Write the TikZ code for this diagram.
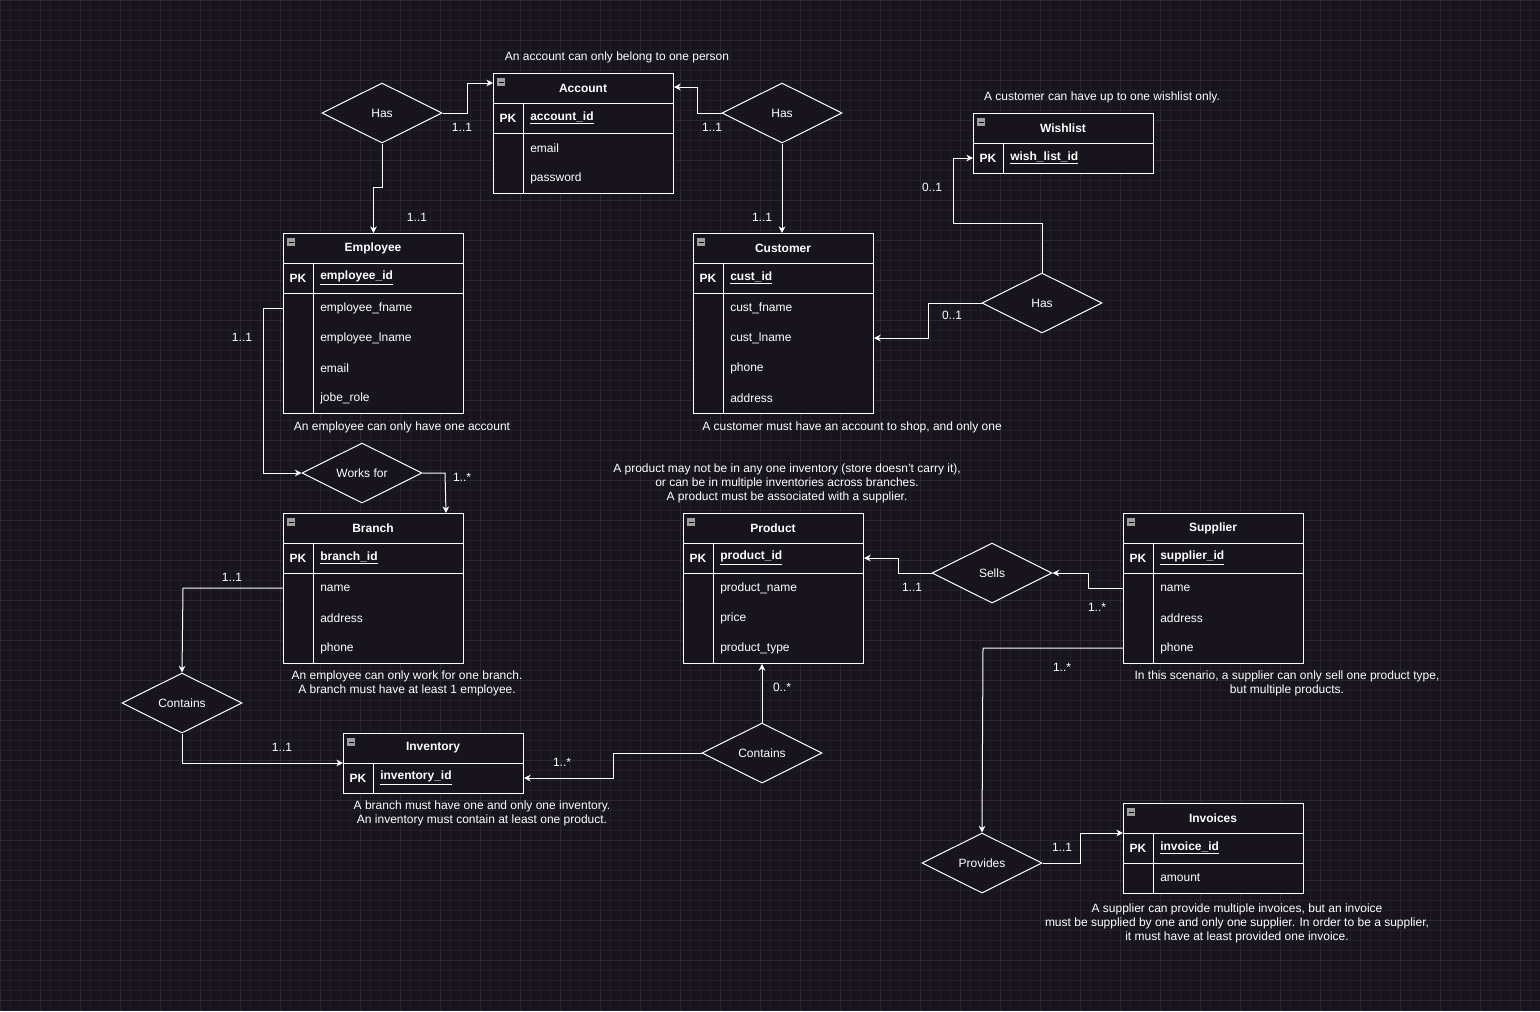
\documentclass[tikz,border=0pt]{standalone}
\usepackage{fontspec}
\setmainfont{Liberation Sans}
\usetikzlibrary{shapes.geometric,arrows.meta,calc}
\definecolor{bg}{HTML}{18141D}
\definecolor{gmin}{HTML}{221E28}
\definecolor{gmaj}{HTML}{2C2833}
\tikzset{
 ln/.style={draw=white,line width=0.75pt},
 con/.style={ln,-{Stealth[length=5pt,width=5pt]}},
 txt/.style={text=white,font=\fontsize{9}{10.5}\selectfont,inner sep=0},
 dia/.style={diamond,ln,fill=bg,minimum width=90pt,minimum height=45pt,inner sep=0,shape aspect=2,txt},
 note/.style={txt,align=center},
}
\newcommand\erent[7]{%
 \begin{scope}[shift={(#2,#3)}]
 \node[ln,fill=bg,anchor=north west,minimum width=135pt,minimum height=#7*0.75pt,inner sep=0] (#1) at (0,0) {};
 \draw[ln] (0,30)--(180,30) (0,60)--(180,60) (30,30)--(30,#7);
 \fill[gray!75] (4,5) rectangle (12,13); \draw[black,line width=0.6pt] (5.5,9)--(10.5,9);
 \node[txt,font=\fontsize{9}{10}\selectfont\bfseries] (#1-t) at (90,15) {#4};
 \node[txt,font=\fontsize{9}{10}\selectfont\bfseries] (#1-pk) at (15,45) {PK};
 \node[txt,font=\fontsize{9}{10}\selectfont\bfseries,anchor=west] (#1-id) at (37,45) {\underline{#5}};
 \foreach \a [count=\i] in {#6} {\node[txt,anchor=west] (#1-a\i) at (37,45+30*\i) {\a};}
 \end{scope}}
\begin{document}
\begin{tikzpicture}[x=0.75pt,y=-0.75pt]
\useasboundingbox (0,0) rectangle (1540,1011);
\fill[bg] (0,0) rectangle (1540,1011);
\foreach \k in {0,10,...,1540} \draw[gmin,line width=0.5pt] (\k,0) -- (\k,1011);
\foreach \k in {0,10,...,1010} \draw[gmin,line width=0.5pt] (0,\k) -- (1540,\k);
\foreach \k in {0,40,...,1540} \draw[gmaj,line width=0.6pt] (\k,0) -- (\k,1011);
\foreach \k in {0,40,...,1010} \draw[gmaj,line width=0.6pt] (0,\k) -- (1540,\k);
% entities
\erent{acc}{493}{73}{Account}{account\_id}{email,password}{120}
\erent{emp}{283}{233}{Employee}{employee\_id}{employee\_fname,employee\_lname,email,jobe\_role}{180}
\erent{cus}{693}{233}{Customer}{cust\_id}{cust\_fname,cust\_lname,phone,address}{180}
\erent{wis}{973}{113}{Wishlist}{wish\_list\_id}{}{60}
\erent{bra}{283}{513}{Branch}{branch\_id}{name,address,phone}{150}
\erent{pro}{683}{513}{Product}{product\_id}{product\_name,price,product\_type}{150}
\erent{sup}{1123}{513}{Supplier}{supplier\_id}{name,address,phone}{150}
\erent{inv}{343}{733}{Inventory}{inventory\_id}{}{60}
\erent{ivc}{1123}{803}{Invoices}{invoice\_id}{amount}{90}
% diamonds
\node[dia] (h1) at (382,113) {Has};
\node[dia] (h2) at (782,113) {Has};
\node[dia] (h3) at (1042,303) {Has};
\node[dia] (wf) at (362,473) {Works for};
\node[dia] (c1) at (182,703) {Contains};
\node[dia] (c2) at (762,753) {Contains};
\node[dia] (se) at (992,573) {Sells};
\node[dia] (pv) at (982,863) {Provides};
% connectors
\draw[con] (h1.east) -- (467,113) |- ($(acc.north west)+(0,10)$);
\draw[con] (h1.south) -- (382,187) -| (emp.north);
\draw[con] (h2.west) -- (697,113) |- ($(acc.north east)+(0,14)$);
\draw[con] (h2.south) -- (h2.south |- cus.north);
\draw[con] (h3.north) -- (1042,223) -- (953,223) |- ($(wis.north west)+(0,45)$);
\draw[con] (h3.west) -- (928,303) |- ($(cus.north east)+(0,105)$);
\draw[con] ($(emp.north west)+(0,75)$) -- (263,308) |- (wf.west);
\draw[con] (wf.east) -- (445,473) -- ($(bra.north east)+(-18,0)$);
\draw[con] ($(bra.north west)+(0,75)$) -- (183,588) -- (c1.north);
\draw[con] (c1.south) |- ($(inv.north west)+(0,30)$);
\draw[con] (c2.west) -- (613,753) |- ($(inv.north east)+(0,45)$);
\draw[con] (c2.north) -- (c2.north |- pro.south);
\draw[con] (se.west) -- (898,573) |- ($(pro.north east)+(0,45)$);
\draw[con] ($(sup.north west)+(0,75)$) -- (1088,588) |- (se.east);
\draw[con] ($(sup.north west)+(0,135)$) -- (983,648) -- (pv.north);
\draw[con] (pv.east) -- (1080,863) |- ($(ivc.north west)+(0,30)$);
% cardinalities
\foreach \p/\t in {{(462,127)}/1..1,{(417,217)}/1..1,{(712,127)}/1..1,{(762,217)}/1..1,{(932,187)}/0..1,{(952,315)}/0..1,{(242,337)}/1..1,{(462,477)}/1..*,{(232,577)}/1..1,{(282,747)}/1..1,{(562,762)}/1..*,{(782,687)}/0..*,{(912,587)}/1..1,{(1097,607)}/1..*,{(1062,667)}/1..*,{(1062,847)}/1..1}
 \node[txt] at \p {\t};
% notes
\node[note] (n1) at (617,57) {An account can only belong to one person};
\node[note] (n2) at (1102,97) {A customer can have up to one wishlist only.};
\node[note] (n3) at (402,427) {An employee can only have one account};
\node[note] (n4) at (852,427) {A customer must have an account to shop, and only one};
\node[note] (n5) at (787,483) {A product may not be in any one inventory (store doesn't carry it),\\or can be in multiple inventories across branches.\\A product must be associated with a supplier.};
\node[note] (n6) at (407,683) {An employee can only work for one branch.\\A branch must have at least 1 employee.};
\node[note] (n7) at (1287,683) {In this scenario, a supplier can only sell one product type,\\but multiple products.};
\node[note] (n8) at (482,813) {A branch must have one and only one inventory.\\An inventory must contain at least one product.};
\node[note] (n9) at (1237,923) {A supplier can provide multiple invoices, but an invoice\\must be supplied by one and only one supplier. In order to be a supplier,\\it must have at least provided one invoice.};
\end{tikzpicture}
\end{document}
